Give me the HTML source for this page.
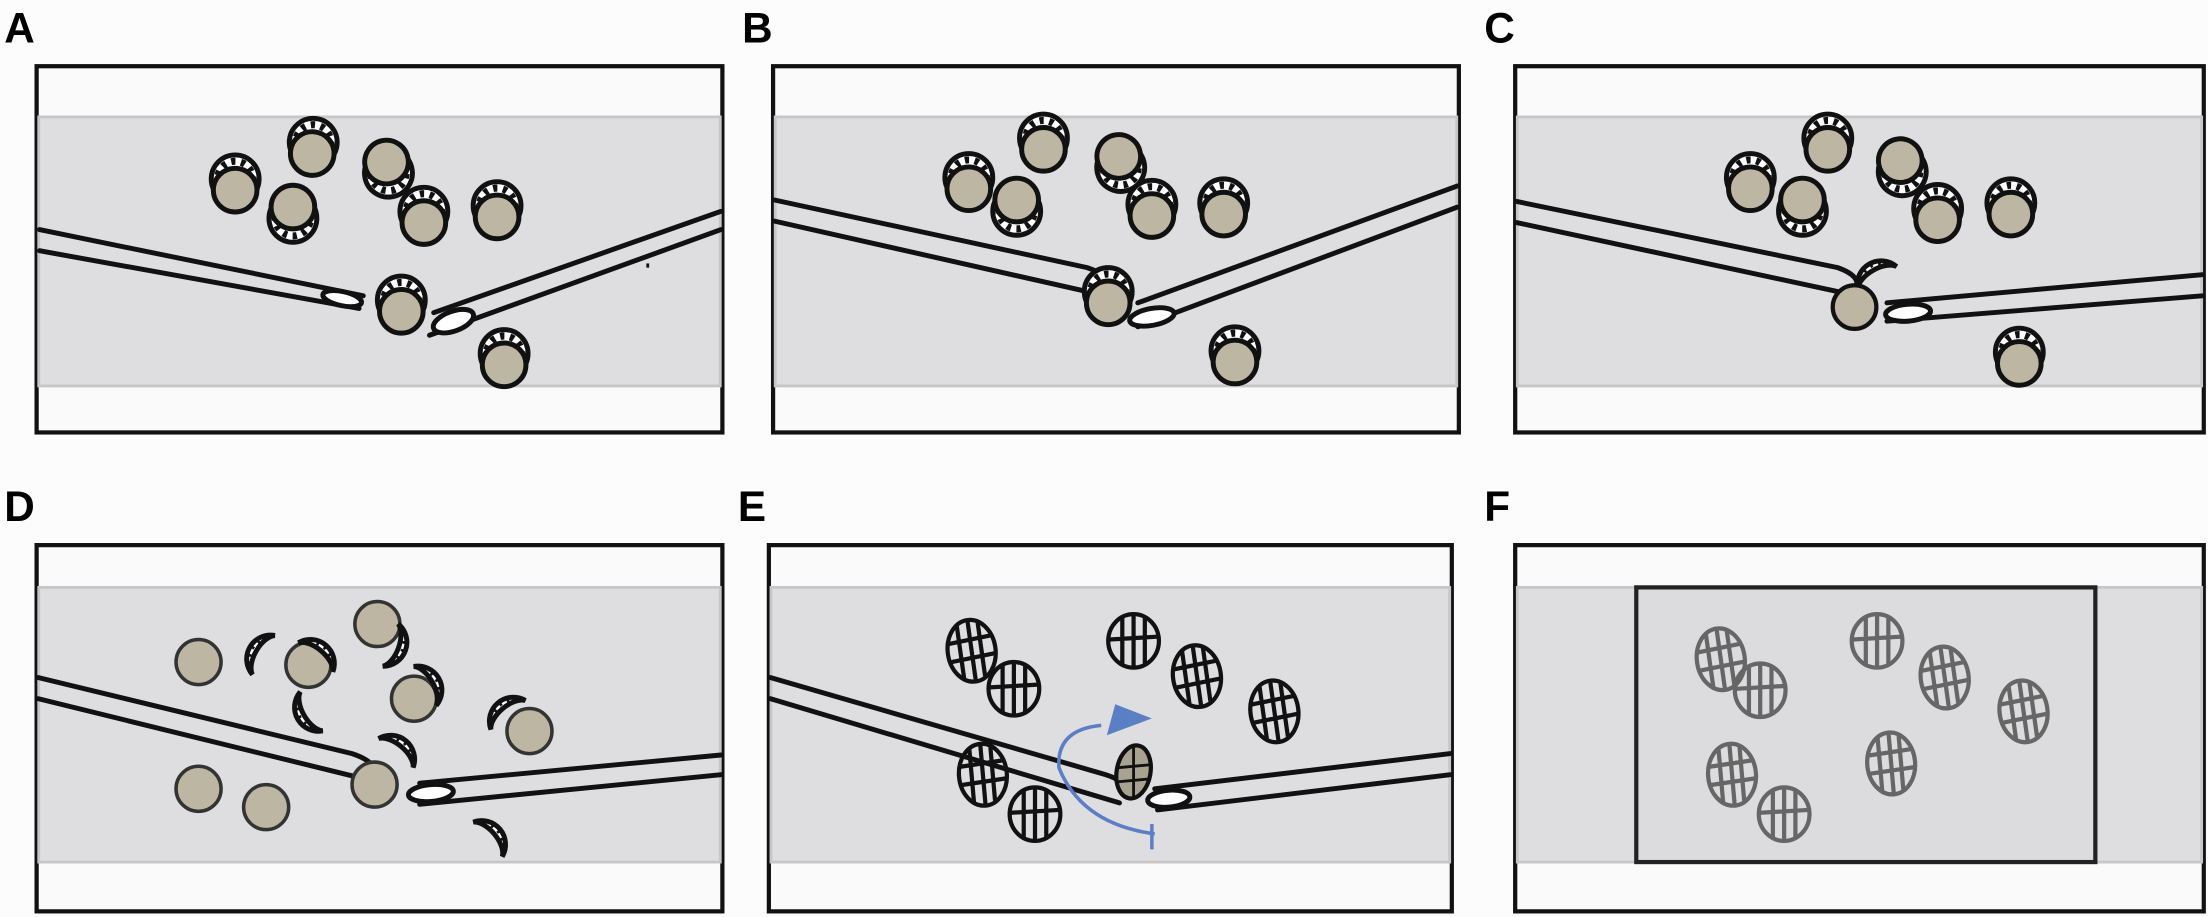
<!DOCTYPE html>
<html><head><meta charset="utf-8"><style>html,body{margin:0;padding:0;background:#fcfcfc}svg{display:block}</style></head>
<body>
<svg width="2208" height="917" viewBox="0 0 1568 651" preserveAspectRatio="none" xmlns="http://www.w3.org/2000/svg">
<defs>
<g id="z">
<circle cx="0" cy="-5" r="17" fill="#fff" stroke="#111" stroke-width="3.5"/>
<circle cx="0" cy="-5" r="12.5" fill="none" stroke="#111" stroke-width="5" stroke-dasharray="3 4"/>
<circle cx="0" cy="3" r="15.5" fill="#bdb6a2" stroke="#111" stroke-width="3.5"/>
</g>
<circle id="p" r="16" fill="#bdb6a2" stroke="#333" stroke-width="2.5"/>
<g id="c">
<path d="M-16,6 A17 17 0 0 1 16,6 A17 9 0 0 0 -16,6 Z" fill="#fff" stroke="#111" stroke-width="3.5"/>
<path d="M-11,1 A14 12 0 0 1 11,1" fill="none" stroke="#111" stroke-width="3" stroke-dasharray="2 4"/>
</g>
<g id="g" fill="none" stroke-width="3">
<ellipse rx="17" ry="22"/>
<path d="M0,-22V22M-8,-19V19M7,-19V19M-16,-7L16,-9M-16,6L16,4"/>
</g>
<g id="g2" fill="none" stroke-width="3">
<ellipse rx="18" ry="19"/>
<path d="M0,-19V19M-8,-17V17M8,-17V17M-17,-1L17,-3"/>
</g>
</defs>
<rect width="1568" height="651" fill="#fcfcfc"/>
<g font-family="Liberation Sans, sans-serif" font-weight="bold" font-size="30" fill="#000">
<text x="3" y="30">A</text><text x="527" y="30">B</text><text x="1054" y="30">C</text>
<text x="3" y="370">D</text><text x="524" y="370">E</text><text x="1054" y="370">F</text>
</g>
<g stroke="#111" stroke-width="3">
<rect x="26" y="47" width="487" height="260" fill="#fafafa"/>
<rect x="549" y="47" width="487" height="260" fill="#fafafa"/>
<rect x="1076" y="47" width="489" height="260" fill="#fafafa"/>
<rect x="26" y="387" width="487" height="260" fill="#fafafa"/>
<rect x="546" y="387" width="485" height="260" fill="#fafafa"/>
<rect x="1076" y="387" width="489" height="260" fill="#fafafa"/>
</g>
<g fill="#dedee0" stroke="#c6c6c8" stroke-width="2">
<rect x="27.5" y="83" width="484" height="191"/>
<rect x="550.5" y="83" width="484" height="191"/>
<rect x="1077.5" y="83" width="486" height="191"/>
<rect x="27.5" y="417" width="484" height="195"/>
<rect x="547.5" y="417" width="482" height="195"/>
<rect x="1077.5" y="417" width="486" height="195"/>
</g>
<rect x="1162" y="417" width="326" height="195" fill="#dcdcde" stroke="#222" stroke-width="3"/>

<g fill="none" stroke="#111" stroke-width="3.5" stroke-linecap="round">
<path d="M28,163 L258,210 M28,178 L255,219"/>
<ellipse cx="243" cy="212" rx="14" ry="5" transform="rotate(12 243 212)" fill="#fff"/>
<path d="M512,150 L308,222 M512,163 L305,238"/>
<ellipse cx="322" cy="228" rx="15" ry="7" transform="rotate(-20 322 228)" fill="#fff"/>
<path d="M550,142 L772,190 Q790,196 788,205 M550,157 L772,207"/>
<path d="M1035,132 L808,215 M1035,147 L808,232"/>
<ellipse cx="818" cy="225" rx="16" ry="6" transform="rotate(-10 818 225)" fill="#fff"/>
<path d="M1077,143 L1305,190 Q1322,196 1318,205 M1077,158 L1305,207"/>
<path d="M1564,195 L1340,215 M1564,210 L1340,228"/>
<ellipse cx="1355" cy="222" rx="16" ry="6" transform="rotate(-5 1355 222)" fill="#fff"/>
<path d="M27,481 L250,535 Q268,541 266,550 M27,496 L255,552"/>
<path d="M512,536 L298,556 M512,550 L298,571"/>
<ellipse cx="306" cy="563" rx="16" ry="6" transform="rotate(-5 306 563)" fill="#fff"/>
<path d="M547,481 L782,549 Q797,553 800,560 M547,496 L795,570"/>
<path d="M1030,535 L820,560 M1030,550 L822,575"/>
<ellipse cx="830" cy="567" rx="15" ry="6" transform="rotate(-5 830 567)" fill="#fff"/>
</g>
<rect x="459" y="187" width="2" height="3" fill="#111"/>

<use href="#z" x="167" y="132"/><use href="#z" x="222" y="106" transform="rotate(5 222 106)"/>
<use href="#z" x="208" y="150" transform="rotate(180 208 150)"/>
<use href="#z" x="275" y="118" transform="rotate(170 275 118)"/>
<use href="#z" x="301" y="155"/><use href="#z" x="353" y="151"/>
<use href="#z" x="285" y="218"/><use href="#z" x="358" y="256"/>
<use href="#z" x="688" y="131"/><use href="#z" x="741" y="103"/>
<use href="#z" x="722" y="145" transform="rotate(180 722 145)"/>
<use href="#z" x="795" y="114" transform="rotate(170 795 114)"/>
<use href="#z" x="818" y="150"/><use href="#z" x="869" y="149"/>
<use href="#z" x="787" y="212"/>
<use href="#z" x="877" y="254"/>
<use href="#z" x="1243" y="131"/><use href="#z" x="1298" y="103"/>
<use href="#z" x="1280" y="145" transform="rotate(180 1280 145)"/>
<use href="#z" x="1350" y="117" transform="rotate(170 1350 117)"/>
<use href="#z" x="1376" y="153"/><use href="#z" x="1428" y="149"/>
<use href="#c" x="1330" y="192" transform="rotate(-30 1330 192)"/>
<circle cx="1317" cy="218" r="15.5" fill="#bdb6a2" stroke="#111" stroke-width="3"/>
<use href="#z" x="1434" y="255"/>
<use href="#p" x="141" y="470"/><use href="#p" x="219" y="472"/><use href="#p" x="268" y="443"/>
<use href="#p" x="294" y="496"/><use href="#p" x="376" y="519"/>
<use href="#p" x="141" y="560"/><use href="#p" x="189" y="573"/><use href="#p" x="266" y="557"/>
<use href="#c" x="182" y="462" transform="rotate(-60 182 462)"/>
<use href="#c" x="228" y="462" transform="rotate(40 228 462)"/>
<use href="#c" x="283" y="460" transform="rotate(110 283 460)"/>
<use href="#c" x="307" y="484" transform="rotate(60 307 484)"/>
<use href="#c" x="357" y="503" transform="rotate(-40 357 503)"/>
<use href="#c" x="216" y="508" transform="rotate(-120 216 508)"/>
<use href="#c" x="285" y="530" transform="rotate(40 285 530)"/>
<use href="#c" x="351" y="592" transform="rotate(50 351 592)"/>
<g stroke="#111">
<use href="#g" x="690" y="462" transform="rotate(-8 690 462)"/>
<use href="#g2" x="720" y="489"/>
<use href="#g2" x="805" y="455"/>
<use href="#g" x="850" y="480" transform="rotate(-8 850 480)"/>
<use href="#g" x="905" y="505" transform="rotate(-8 905 505)"/>
<use href="#g" x="698" y="550" transform="rotate(-5 698 550)"/>
<use href="#g2" x="735" y="578"/>
</g>
<ellipse cx="805" cy="548" rx="12" ry="19" fill="#a8a290" stroke="#111" stroke-width="3" transform="rotate(10 805 548)"/>
<path d="M805,530V567M794,545L816,543M794,555L816,553" stroke="#111" stroke-width="2" fill="none"/>
<path d="M820,592 Q768,585 752,545 Q750,518 782,515" fill="none" stroke="#5b7fc4" stroke-width="2.5"/>
<path d="M818,510 L792,500 L786,522 Z" fill="#5b7fc4"/>
<path d="M818,585 L818,603" stroke="#5b7fc4" stroke-width="2.5"/>
<g stroke="#666">
<use href="#g" x="1222" y="468" transform="rotate(-8 1222 468)"/>
<use href="#g2" x="1250" y="490"/>
<use href="#g2" x="1333" y="455"/>
<use href="#g" x="1381" y="481" transform="rotate(-8 1381 481)"/>
<use href="#g" x="1437" y="505" transform="rotate(-8 1437 505)"/>
<use href="#g" x="1230" y="550" transform="rotate(-5 1230 550)"/>
<use href="#g2" x="1267" y="578"/>
<use href="#g" x="1343" y="542" transform="rotate(-5 1343 542)"/>
</g>
</svg>
</body></html>
